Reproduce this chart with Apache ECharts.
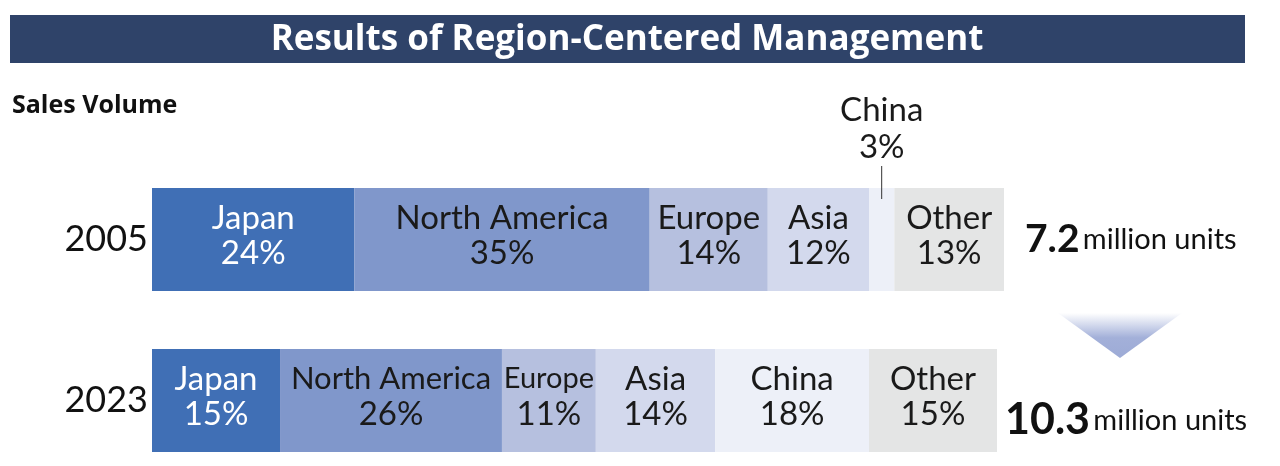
<!DOCTYPE html>
<html>
<head>
<meta charset="utf-8">
<script src="https://cdn.jsdelivr.net/npm/echarts@6/dist/echarts.min.js"></script>
<style>
html, body { margin: 0; padding: 0; background: #fff; }
#main { width: 1280px; height: 466px; }
</style>
</head>
<body>
<div id="main"></div>
<script>
// sales share by region, % of units
const regions = ['Japan', 'North America', 'Europe', 'Asia', 'China', 'Other'];
const years = ['2005', '2023'];
const share2005 = [24, 35, 14, 12, 3, 13];
const share2023 = [15, 26, 11, 14, 18, 15];
const totals = ['7.2', '10.3']; // million units
const colors = ['#406fb5', '#8097cb', '#b6c0df', '#d3d9ed', '#edf0f8', '#e4e5e5'];

const shares = [share2005, share2023];
const font = 'Lato, "Noto Sans", sans-serif';
const boldFont = '"Open Sans", Lato, sans-serif';
const sum = arr => arr.reduce((a, b) => a + b, 0);

const grids = [
    { left: 152, top: 188, width: 852, height: 103 },
    { left: 152, top: 349, width: 845, height: 103 }
];

let xAxes = [], yAxes = [], series = [];
years.forEach((y, i) => {
    xAxes.push({ gridIndex: i, type: 'value', min: 0, max: sum(shares[i]), show: false });
    yAxes.push({
        gridIndex: i, type: 'category', data: [y],
        axisLine: { show: false }, axisTick: { show: false }, splitLine: { show: false },
        axisLabel: { fontSize: 36, color: '#111', fontFamily: font, margin: 4 }
    });
    yAxes.push({
        gridIndex: i, type: 'category', position: 'right', data: [totals[i]],
        axisLine: { show: false }, axisTick: { show: false }, splitLine: { show: false },
        axisLabel: {
            margin: i == 0 ? 21 : 8,
            padding: i == 0 ? [0, 0, 0, 0] : [40, 0, 0, 0],
            formatter: v => '{n|' + v + '} {u|million units}',
            rich: {
                n: { fontSize: i == 0 ? 39 : 43, fontWeight: 'bold', color: '#111', fontFamily: font },
                u: { fontSize: 29, color: '#111', fontFamily: font }
            }
        }
    });
    regions.forEach((r, j) => {
        let label = {
            show: true, position: 'inside', offset: [0, -4],
            formatter: p => r + '\n' + p.value + '%',
            fontSize: 33, lineHeight: 35, fontFamily: font,
            color: j == 0 ? '#fff' : '#1a1a1a'
        };
        // narrow 2023 blocks: squeeze the name a little
        if (i == 1 && (r == 'Europe' || r == 'North America')) {
            label.formatter = p => '{c|' + r + '}\n' + p.value + '%';
            label.rich = { c: { fontSize: r == 'Europe' ? 29 : 31, lineHeight: 35, fontFamily: font, color: '#1a1a1a' } };
        }
        // 2005 China is too thin, label sits above with a leader line
        if (i == 0 && r == 'China') {
            label = {
                show: true, position: ['50%', -96], align: 'center', verticalAlign: 'top',
                formatter: p => '{t|' + r + '}\n{t|' + p.value + '%}\n{l|}',
                rich: {
                    t: { fontSize: 33, lineHeight: 37, color: '#1a1a1a', fontFamily: font, align: 'center' },
                    l: { width: 1, height: 33, lineHeight: 33, backgroundColor: '#333', align: 'center' }
                }
            };
        }
        series.push({
            type: 'bar', name: r, xAxisIndex: i, yAxisIndex: i * 2, stack: 'y' + y,
            data: [shares[i][j]], barWidth: '100%',
            itemStyle: { color: colors[j] },
            label: label,
            silent: true
        });
    });
});

const chart = echarts.init(document.getElementById('main'));
chart.setOption({
    animation: false,
    grid: grids,
    xAxis: xAxes,
    yAxis: yAxes,
    series: series,
    graphic: [
        { type: 'rect', shape: { x: 10, y: 15, width: 1235, height: 48 }, style: { fill: '#2f4369' }, z: 0 },
        {
            type: 'text', x: 627, y: 40, z: 1,
            style: { text: 'Results of Region-Centered Management', fill: '#fff', font: 'bold 35px ' + boldFont, align: 'center', verticalAlign: 'middle' }
        },
        {
            type: 'text', x: 12, y: 106, z: 1,
            style: { text: 'Sales Volume', fill: '#111', font: 'bold 25px ' + boldFont, align: 'left', verticalAlign: 'middle' }
        },
        {
            type: 'polygon', z: 0,
            shape: { points: [[1058, 313], [1182, 313], [1120, 358]] },
            style: {
                fill: new echarts.graphic.LinearGradient(0, 0, 0, 1, [
                    { offset: 0, color: '#ffffff' },
                    { offset: 0.55, color: '#a3b0d9' },
                    { offset: 1, color: '#9dabd6' }
                ])
            }
        }
    ]
});
</script>
</body>
</html>
